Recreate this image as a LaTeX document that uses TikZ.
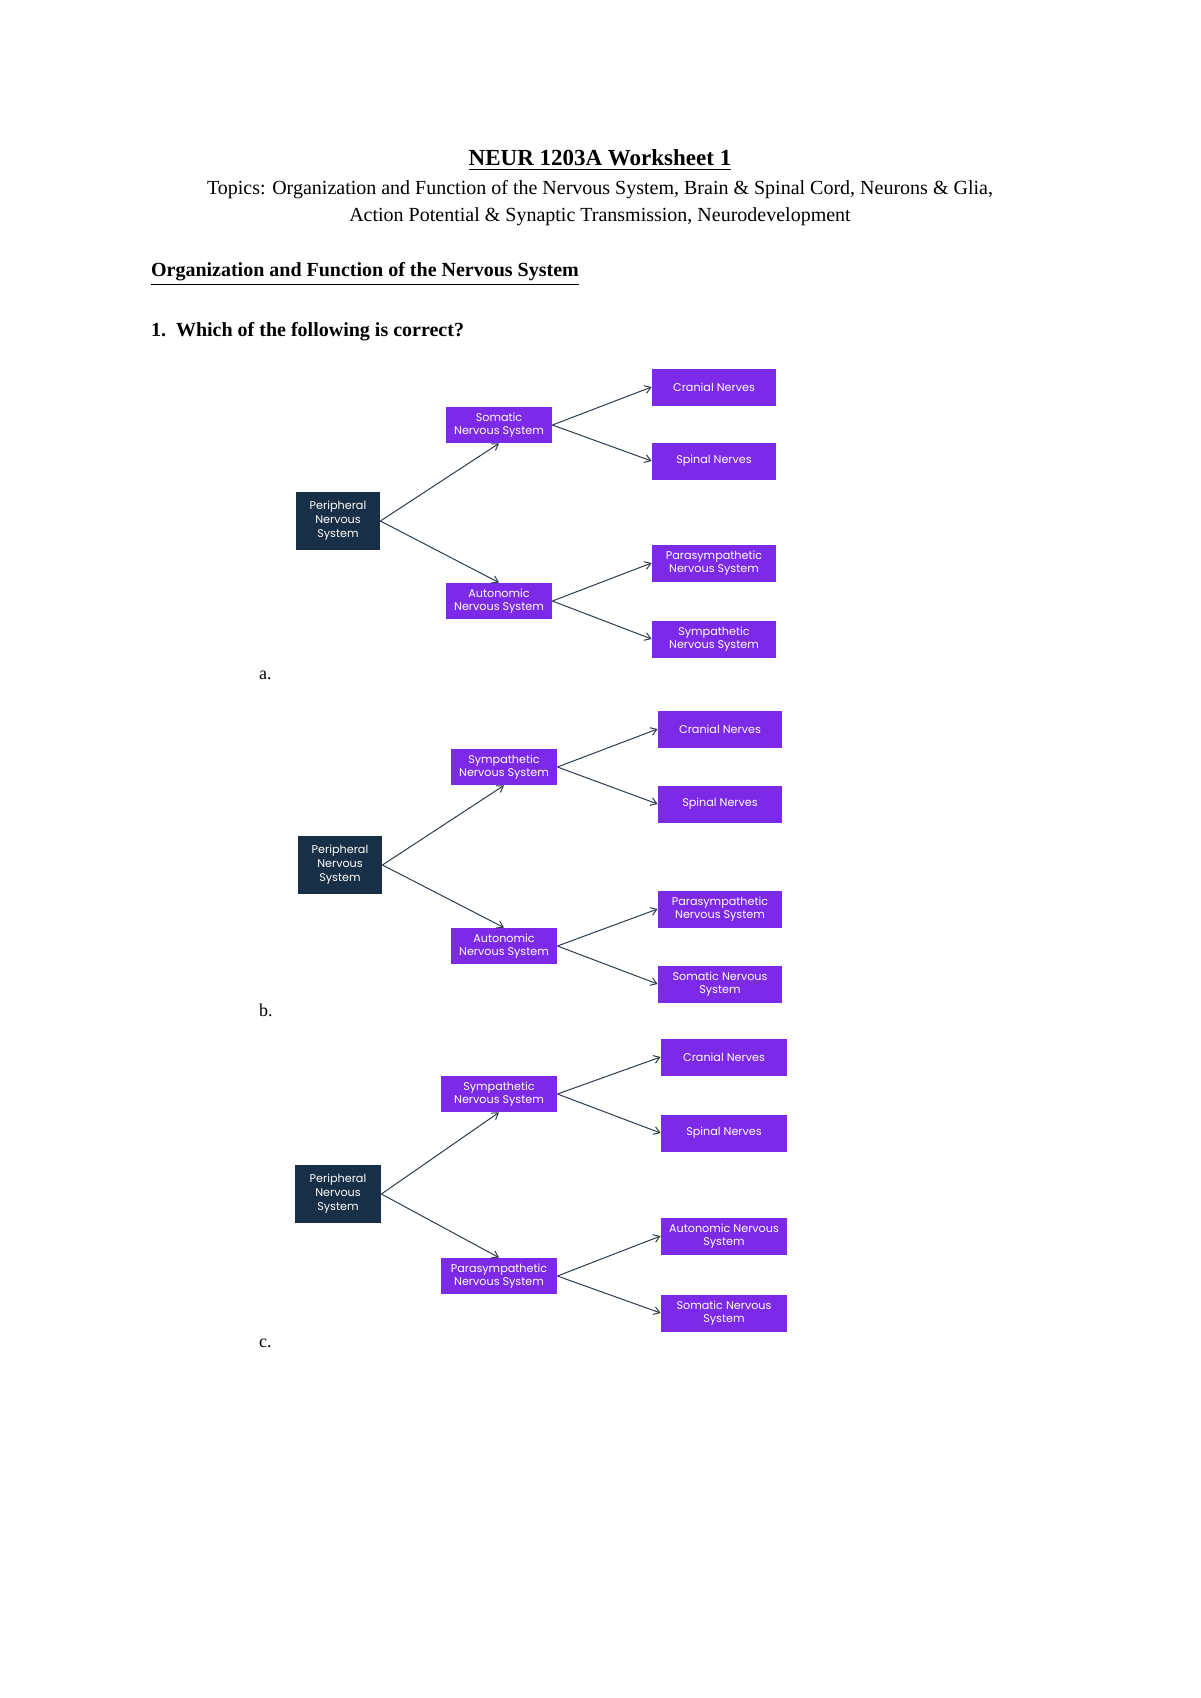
\documentclass[tikz,border=0pt]{standalone}
\usepackage{fontspec}
\setmainfont{Liberation Serif}
\newfontfamily\boxfont{Poppins}
\usetikzlibrary{arrows.meta}
\definecolor{pur}{HTML}{7C2AE8}
\definecolor{dk}{HTML}{172F47}
\definecolor{ar}{HTML}{2E3B4A}
\tikzset{
 pb/.style={fill=pur,text=white,font=\boxfont\fontsize{5.6}{6.6}\selectfont,align=center,inner sep=0pt,minimum width=#1},
 pb/.default=53pt,
 db/.style={fill=dk,text=white,font=\boxfont\fontsize{5.6}{7}\selectfont,align=center,inner sep=0pt,minimum width=42pt,minimum height=29pt},
 con/.style={draw=ar,line width=0.5pt,-{Straight Barb[length=3pt,width=4pt]}},
 lab/.style={font=\fontsize{9}{11}\selectfont,anchor=west}
}
\begin{document}
\begin{tikzpicture}[x=0.5pt,y=-0.5pt]
\useasboundingbox (0,0) rectangle (1200,1698);
\node (title) at (600,160) {\fontsize{11.5}{13}\selectfont\underline{\textbf{NEUR 1203A Worksheet 1}}};
\node[align=center,font=\fontsize{10}{13.5}\selectfont] (topics) at (600,203) {Topics: Organization and Function of the Nervous System, Brain \& Spinal Cord, Neurons \& Glia,\\Action Potential \& Synaptic Transmission, Neurodevelopment};
\node[anchor=west,font=\fontsize{10}{12}\selectfont] (head) at (144,274) {\underline{\textbf{Organization and Function of the Nervous System}}};
\node[anchor=west,font=\fontsize{10}{12}\selectfont] (q) at (144,332) {\textbf{1.\ \ Which of the following is correct?}};
% a
\node[db] (ap) at (338,521) {Peripheral\\Nervous\\System};
\node[pb,minimum height=18pt] (as) at (499,425) {Somatic\\Nervous System};
\node[pb,minimum height=18pt] (aa) at (499,601) {Autonomic\\Nervous System};
\node[pb=62pt,minimum height=18.5pt] (ac) at (714,387) {Cranial Nerves};
\node[pb=62pt,minimum height=18.5pt] (asp) at (714,461) {Spinal Nerves};
\node[pb=62pt,minimum height=18.5pt] (apa) at (714,563) {Parasympathetic\\Nervous System};
\node[pb=62pt,minimum height=18.5pt] (asy) at (714,639) {Sympathetic\\Nervous System};
\draw[con] (ap.east) -- (as.south);
\draw[con] (ap.east) -- (aa.north);
\draw[con] (as.east) -- (ac.west);
\draw[con] (as.east) -- (asp.west);
\draw[con] (aa.east) -- (apa.west);
\draw[con] (aa.east) -- (asy.west);
\node[lab] (la) at (252,675) {a.};
% b
\node[db] (bp) at (340,865) {Peripheral\\Nervous\\System};
\node[pb,minimum height=18pt] (bs) at (504,767) {Sympathetic\\Nervous System};
\node[pb,minimum height=18pt] (ba) at (504,946) {Autonomic\\Nervous System};
\node[pb=62pt,minimum height=18.5pt] (bc) at (720,729) {Cranial Nerves};
\node[pb=62pt,minimum height=18.5pt] (bsp) at (720,804) {Spinal Nerves};
\node[pb=62pt,minimum height=18.5pt] (bpa) at (720,909) {Parasympathetic\\Nervous System};
\node[pb=62pt,minimum height=18.5pt] (bso) at (720,984) {Somatic Nervous\\System};
\draw[con] (bp.east) -- (bs.south);
\draw[con] (bp.east) -- (ba.north);
\draw[con] (bs.east) -- (bc.west);
\draw[con] (bs.east) -- (bsp.west);
\draw[con] (ba.east) -- (bpa.west);
\draw[con] (ba.east) -- (bso.west);
\node[lab] (lb) at (252,1010) {b.};
% c
\node[db,minimum width=43pt] (cp) at (338,1194) {Peripheral\\Nervous\\System};
\node[pb=58pt,minimum height=18pt] (cs) at (499,1094) {Sympathetic\\Nervous System};
\node[pb=58pt,minimum height=18pt] (cpa) at (499,1276) {Parasympathetic\\Nervous System};
\node[pb=63pt,minimum height=18.5pt] (cc) at (724,1057) {Cranial Nerves};
\node[pb=63pt,minimum height=18.5pt] (csp) at (724,1133) {Spinal Nerves};
\node[pb=63pt,minimum height=18.5pt] (cau) at (724,1236) {Autonomic Nervous\\System};
\node[pb=63pt,minimum height=18.5pt] (cso) at (724,1313) {Somatic Nervous\\System};
\draw[con] (cp.east) -- (cs.south);
\draw[con] (cp.east) -- (cpa.north);
\draw[con] (cs.east) -- (cc.west);
\draw[con] (cs.east) -- (csp.west);
\draw[con] (cpa.east) -- (cau.west);
\draw[con] (cpa.east) -- (cso.west);
\node[lab] (lc) at (252,1343) {c.};
\end{tikzpicture}
\end{document}
